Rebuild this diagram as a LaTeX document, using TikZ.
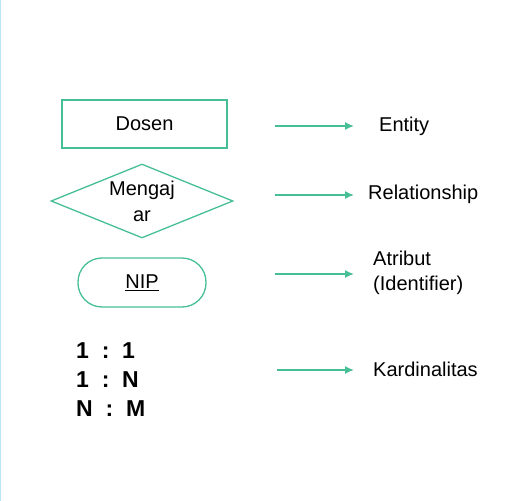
\documentclass[tikz,border=0pt]{standalone}
\usepackage{fontspec}
\setmainfont{Liberation Sans}
\usetikzlibrary{shapes.geometric,arrows.meta}
\definecolor{erdgreen}{RGB}{70,190,150}
\definecolor{edgeblue}{RGB}{185,228,248}
\begin{document}
\begin{tikzpicture}[x=1pt,y=-1pt,
	ent/.style={draw=erdgreen,line width=1.3pt,rectangle,minimum width=165pt,minimum
			height=48pt,inner sep=0pt,font=\fontsize{20}{25}\selectfont},
	rel/.style={draw=erdgreen,line width=1.3pt,diamond,aspect=2.46,minimum width=182pt,minimum
			height=74pt,inner sep=0pt,align=center,font=\fontsize{20}{26}\selectfont},
	atr/.style={draw=erdgreen,line width=1.3pt,rectangle,rounded corners=24pt,minimum
			width=128pt,minimum height=49pt,inner sep=0pt,font=\fontsize{20}{25}\selectfont},
	lbl/.style={anchor=west,inner sep=0pt,align=left,font=\fontsize{20}{25}\selectfont},
	arr/.style={erdgreen,line width=1.5pt,-{Latex[length=9pt,width=8pt]}}]
	\useasboundingbox (0,0) rectangle (531,501);
	\fill[edgeblue] (0,0) rectangle (1.4,501);
	% symbols
	\node[ent] (dosen) at (144.5,124) {Dosen};
	\node[rel] (mengajar) at (142,201) {Mengaj\\ar};
	\node[atr] (nip) at (142,282.5) {\underline{NIP}};
	\node[lbl,font=\fontsize{23}{29}\selectfont\bfseries] (kard) at (76,380)
		{1\ \ :\ \ 1\\1\ \ :\ \ N\\N\ \ :\ \ M};
	% meanings
	\node[lbl] (entity) at (379,126) {Entity};
	\node[lbl] (relation) at (368,194) {Relationship};
	\node[lbl] (atribut) at (373,273) {Atribut\\(Identifier)};
	\node[lbl] (kardinal) at (373,369) {Kardinalitas};
	% arrows
	\coordinate (a1) at (275,126); \coordinate (b1) at (354,126);
	\coordinate (a2) at (275,195); \coordinate (b2) at (354,195);
	\coordinate (a3) at (275,274); \coordinate (b3) at (354,274);
	\coordinate (a4) at (277,370); \coordinate (b4) at (354,370);
	\foreach \i in {1,...,4}
		\draw[arr] (a\i) -- (b\i);
\end{tikzpicture}
\end{document}
